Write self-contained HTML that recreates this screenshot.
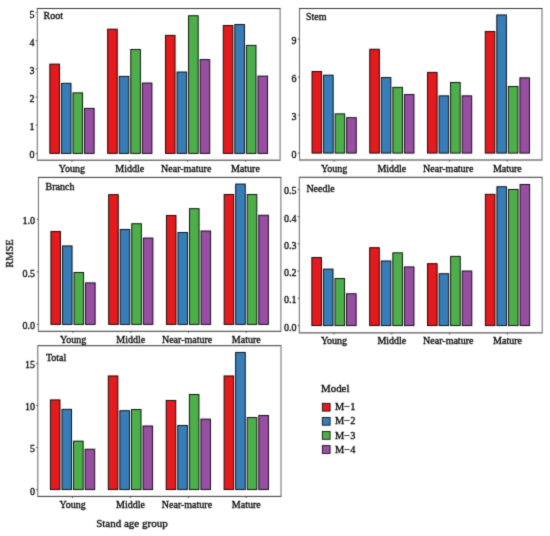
<!DOCTYPE html>
<html><head><meta charset="utf-8"><title>RMSE by stand age group</title>
<style>
html,body{margin:0;padding:0;background:#fff;}
body{width:550px;height:536px;overflow:hidden;}
svg{display:block;font-family:"Liberation Serif", "Times New Roman", serif;fill:#000;}
svg text{fill:#000;stroke:#000;stroke-width:0.3px;}
</style></head><body>
<svg width="550" height="536" viewBox="0 0 550 536">
<rect x="0" y="0" width="550" height="536" fill="#fff"/>
<defs><filter id="soft" x="0" y="0" width="550" height="536" filterUnits="userSpaceOnUse" color-interpolation-filters="sRGB"><feConvolveMatrix order="3" kernelMatrix="0.0367 0.1915 0.0367 0.1915 1.0000 0.1915 0.0367 0.1915 0.0367" divisor="1.9127" edgeMode="duplicate"/></filter></defs>
<g filter="url(#soft)">
<rect x="49.84" y="64.11" width="9.6" height="89.29" fill="#E41A1C" stroke="#000" stroke-width="0.9"/>
<rect x="61.41" y="83.28" width="9.6" height="70.12" fill="#377EB8" stroke="#000" stroke-width="0.9"/>
<rect x="72.97" y="92.87" width="9.6" height="60.53" fill="#4DAF4A" stroke="#000" stroke-width="0.9"/>
<rect x="84.53" y="108.38" width="9.6" height="45.02" fill="#984EA3" stroke="#000" stroke-width="0.9"/>
<rect x="107.65" y="29.14" width="9.6" height="124.26" fill="#E41A1C" stroke="#000" stroke-width="0.9"/>
<rect x="119.22" y="76.37" width="9.6" height="77.03" fill="#377EB8" stroke="#000" stroke-width="0.9"/>
<rect x="130.78" y="49.44" width="9.6" height="103.96" fill="#4DAF4A" stroke="#000" stroke-width="0.9"/>
<rect x="142.34" y="83" width="9.6" height="70.4" fill="#984EA3" stroke="#000" stroke-width="0.9"/>
<rect x="165.46" y="35.34" width="9.6" height="118.06" fill="#E41A1C" stroke="#000" stroke-width="0.9"/>
<rect x="177.03" y="72" width="9.6" height="81.4" fill="#377EB8" stroke="#000" stroke-width="0.9"/>
<rect x="188.59" y="15.71" width="9.6" height="137.69" fill="#4DAF4A" stroke="#000" stroke-width="0.9"/>
<rect x="200.15" y="59.59" width="9.6" height="93.81" fill="#984EA3" stroke="#000" stroke-width="0.9"/>
<rect x="223.27" y="25.47" width="9.6" height="127.93" fill="#E41A1C" stroke="#000" stroke-width="0.9"/>
<rect x="234.84" y="24.48" width="9.6" height="128.92" fill="#377EB8" stroke="#000" stroke-width="0.9"/>
<rect x="246.4" y="45.35" width="9.6" height="108.05" fill="#4DAF4A" stroke="#000" stroke-width="0.9"/>
<rect x="257.96" y="76.09" width="9.6" height="77.31" fill="#984EA3" stroke="#000" stroke-width="0.9"/>
<line x1="36.8" y1="8.5" x2="280.6" y2="8.5" stroke="#333" stroke-width="1"/>
<line x1="36.8" y1="160.2" x2="280.6" y2="160.2" stroke="#333" stroke-width="1"/>
<line x1="37.3" y1="9" x2="37.3" y2="159.7" stroke="#666" stroke-width="1"/>
<line x1="280.1" y1="9" x2="280.1" y2="159.7" stroke="#666" stroke-width="1"/>
<line x1="35.7" y1="153.4" x2="37.3" y2="153.4" stroke="#333" stroke-width="0.8"/>
<text x="34.4" y="158.3" text-anchor="end" font-size="10.0">0</text>
<line x1="35.7" y1="125.26" x2="37.3" y2="125.26" stroke="#333" stroke-width="0.8"/>
<text x="34.4" y="130.16" text-anchor="end" font-size="10.0">1</text>
<line x1="35.7" y1="97.12" x2="37.3" y2="97.12" stroke="#333" stroke-width="0.8"/>
<text x="34.4" y="102.02" text-anchor="end" font-size="10.0">2</text>
<line x1="35.7" y1="68.98" x2="37.3" y2="68.98" stroke="#333" stroke-width="0.8"/>
<text x="34.4" y="73.88" text-anchor="end" font-size="10.0">3</text>
<line x1="35.7" y1="40.84" x2="37.3" y2="40.84" stroke="#333" stroke-width="0.8"/>
<text x="34.4" y="45.74" text-anchor="end" font-size="10.0">4</text>
<line x1="35.7" y1="12.7" x2="37.3" y2="12.7" stroke="#333" stroke-width="0.8"/>
<text x="34.4" y="17.6" text-anchor="end" font-size="10.0">5</text>
<line x1="71.99" y1="160.2" x2="71.99" y2="161.8" stroke="#333" stroke-width="0.8"/>
<text x="71.99" y="171.7" text-anchor="middle" font-size="10.0">Young</text>
<line x1="129.8" y1="160.2" x2="129.8" y2="161.8" stroke="#333" stroke-width="0.8"/>
<text x="129.8" y="171.7" text-anchor="middle" font-size="10.0">Middle</text>
<line x1="187.6" y1="160.2" x2="187.6" y2="161.8" stroke="#333" stroke-width="0.8"/>
<text x="186.2" y="171.7" text-anchor="middle" font-size="10.0">Near-mature</text>
<line x1="245.41" y1="160.2" x2="245.41" y2="161.8" stroke="#333" stroke-width="0.8"/>
<text x="245.41" y="171.7" text-anchor="middle" font-size="10.0">Mature</text>
<text x="43.6" y="19.1" font-size="10.0">Root</text>
<rect x="312.03" y="71.46" width="9.58" height="81.64" fill="#E41A1C" stroke="#000" stroke-width="0.9"/>
<rect x="323.58" y="75.14" width="9.58" height="77.96" fill="#377EB8" stroke="#000" stroke-width="0.9"/>
<rect x="335.12" y="113.88" width="9.58" height="39.22" fill="#4DAF4A" stroke="#000" stroke-width="0.9"/>
<rect x="346.67" y="117.69" width="9.58" height="35.41" fill="#984EA3" stroke="#000" stroke-width="0.9"/>
<rect x="369.77" y="49.23" width="9.58" height="103.87" fill="#E41A1C" stroke="#000" stroke-width="0.9"/>
<rect x="381.31" y="77.55" width="9.58" height="75.55" fill="#377EB8" stroke="#000" stroke-width="0.9"/>
<rect x="392.86" y="87.33" width="9.58" height="65.77" fill="#4DAF4A" stroke="#000" stroke-width="0.9"/>
<rect x="404.41" y="94.57" width="9.58" height="58.53" fill="#984EA3" stroke="#000" stroke-width="0.9"/>
<rect x="427.51" y="72.35" width="9.58" height="80.75" fill="#E41A1C" stroke="#000" stroke-width="0.9"/>
<rect x="439.05" y="95.84" width="9.58" height="57.26" fill="#377EB8" stroke="#000" stroke-width="0.9"/>
<rect x="450.6" y="82.51" width="9.58" height="70.59" fill="#4DAF4A" stroke="#000" stroke-width="0.9"/>
<rect x="462.15" y="95.84" width="9.58" height="57.26" fill="#984EA3" stroke="#000" stroke-width="0.9"/>
<rect x="485.24" y="31.45" width="9.58" height="121.65" fill="#E41A1C" stroke="#000" stroke-width="0.9"/>
<rect x="496.79" y="14.94" width="9.58" height="138.16" fill="#377EB8" stroke="#000" stroke-width="0.9"/>
<rect x="508.34" y="86.44" width="9.58" height="66.66" fill="#4DAF4A" stroke="#000" stroke-width="0.9"/>
<rect x="519.89" y="77.81" width="9.58" height="75.29" fill="#984EA3" stroke="#000" stroke-width="0.9"/>
<line x1="299" y1="8.5" x2="542.5" y2="8.5" stroke="#333" stroke-width="1"/>
<line x1="299" y1="160" x2="542.5" y2="160" stroke="#333" stroke-width="1"/>
<line x1="299.5" y1="9" x2="299.5" y2="159.5" stroke="#666" stroke-width="1"/>
<line x1="542" y1="9" x2="542" y2="159.5" stroke="#666" stroke-width="1"/>
<line x1="297.9" y1="153.1" x2="299.5" y2="153.1" stroke="#333" stroke-width="0.8"/>
<text x="296.6" y="158" text-anchor="end" font-size="10.0">0</text>
<line x1="297.9" y1="115.09" x2="299.5" y2="115.09" stroke="#333" stroke-width="0.8"/>
<text x="296.6" y="119.99" text-anchor="end" font-size="10.0">3</text>
<line x1="297.9" y1="77.08" x2="299.5" y2="77.08" stroke="#333" stroke-width="0.8"/>
<text x="296.6" y="81.98" text-anchor="end" font-size="10.0">6</text>
<line x1="297.9" y1="39.07" x2="299.5" y2="39.07" stroke="#333" stroke-width="0.8"/>
<text x="296.6" y="43.97" text-anchor="end" font-size="10.0">9</text>
<line x1="334.14" y1="160" x2="334.14" y2="161.6" stroke="#333" stroke-width="0.8"/>
<text x="334.14" y="171.5" text-anchor="middle" font-size="10.0">Young</text>
<line x1="391.88" y1="160" x2="391.88" y2="161.6" stroke="#333" stroke-width="0.8"/>
<text x="391.88" y="171.5" text-anchor="middle" font-size="10.0">Middle</text>
<line x1="449.62" y1="160" x2="449.62" y2="161.6" stroke="#333" stroke-width="0.8"/>
<text x="448.22" y="171.5" text-anchor="middle" font-size="10.0">Near-mature</text>
<line x1="507.36" y1="160" x2="507.36" y2="161.6" stroke="#333" stroke-width="0.8"/>
<text x="507.36" y="171.5" text-anchor="middle" font-size="10.0">Mature</text>
<text x="305.9" y="19.5" font-size="10.0">Stem</text>
<rect x="50.93" y="231.4" width="9.58" height="93" fill="#E41A1C" stroke="#000" stroke-width="0.9"/>
<rect x="62.48" y="245.93" width="9.58" height="78.47" fill="#377EB8" stroke="#000" stroke-width="0.9"/>
<rect x="74.02" y="272.5" width="9.58" height="51.9" fill="#4DAF4A" stroke="#000" stroke-width="0.9"/>
<rect x="85.57" y="282.88" width="9.58" height="41.52" fill="#984EA3" stroke="#000" stroke-width="0.9"/>
<rect x="108.67" y="194.65" width="9.58" height="129.75" fill="#E41A1C" stroke="#000" stroke-width="0.9"/>
<rect x="120.21" y="229.42" width="9.58" height="94.98" fill="#377EB8" stroke="#000" stroke-width="0.9"/>
<rect x="131.76" y="223.71" width="9.58" height="100.69" fill="#4DAF4A" stroke="#000" stroke-width="0.9"/>
<rect x="143.31" y="238.04" width="9.58" height="86.36" fill="#984EA3" stroke="#000" stroke-width="0.9"/>
<rect x="166.41" y="215.41" width="9.58" height="108.99" fill="#E41A1C" stroke="#000" stroke-width="0.9"/>
<rect x="177.95" y="232.54" width="9.58" height="91.86" fill="#377EB8" stroke="#000" stroke-width="0.9"/>
<rect x="189.5" y="208.66" width="9.58" height="115.74" fill="#4DAF4A" stroke="#000" stroke-width="0.9"/>
<rect x="201.05" y="230.98" width="9.58" height="93.42" fill="#984EA3" stroke="#000" stroke-width="0.9"/>
<rect x="224.14" y="194.44" width="9.58" height="129.96" fill="#E41A1C" stroke="#000" stroke-width="0.9"/>
<rect x="235.69" y="184.06" width="9.58" height="140.34" fill="#377EB8" stroke="#000" stroke-width="0.9"/>
<rect x="247.24" y="194.44" width="9.58" height="129.96" fill="#4DAF4A" stroke="#000" stroke-width="0.9"/>
<rect x="258.79" y="215.2" width="9.58" height="109.2" fill="#984EA3" stroke="#000" stroke-width="0.9"/>
<line x1="37.9" y1="177.4" x2="281.4" y2="177.4" stroke="#333" stroke-width="1"/>
<line x1="37.9" y1="331.3" x2="281.4" y2="331.3" stroke="#333" stroke-width="1"/>
<line x1="38.4" y1="177.9" x2="38.4" y2="330.8" stroke="#666" stroke-width="1"/>
<line x1="280.9" y1="177.9" x2="280.9" y2="330.8" stroke="#666" stroke-width="1"/>
<line x1="36.8" y1="324.4" x2="38.4" y2="324.4" stroke="#333" stroke-width="0.8"/>
<text x="35" y="329.3" text-anchor="end" font-size="10.0">0.0</text>
<line x1="36.8" y1="271.9" x2="38.4" y2="271.9" stroke="#333" stroke-width="0.8"/>
<text x="35" y="276.8" text-anchor="end" font-size="10.0">0.5</text>
<line x1="36.8" y1="219.4" x2="38.4" y2="219.4" stroke="#333" stroke-width="0.8"/>
<text x="35" y="224.3" text-anchor="end" font-size="10.0">1.0</text>
<line x1="73.04" y1="331.3" x2="73.04" y2="332.9" stroke="#333" stroke-width="0.8"/>
<text x="73.04" y="342.8" text-anchor="middle" font-size="10.0">Young</text>
<line x1="130.78" y1="331.3" x2="130.78" y2="332.9" stroke="#333" stroke-width="0.8"/>
<text x="130.78" y="342.8" text-anchor="middle" font-size="10.0">Middle</text>
<line x1="188.52" y1="331.3" x2="188.52" y2="332.9" stroke="#333" stroke-width="0.8"/>
<text x="187.12" y="342.8" text-anchor="middle" font-size="10.0">Near-mature</text>
<line x1="246.26" y1="331.3" x2="246.26" y2="332.9" stroke="#333" stroke-width="0.8"/>
<text x="246.26" y="342.8" text-anchor="middle" font-size="10.0">Mature</text>
<text x="45.5" y="189.5" font-size="10.0">Branch</text>
<rect x="311.85" y="257.44" width="9.6" height="68.16" fill="#E41A1C" stroke="#000" stroke-width="0.9"/>
<rect x="323.42" y="269.09" width="9.6" height="56.51" fill="#377EB8" stroke="#000" stroke-width="0.9"/>
<rect x="334.98" y="278.57" width="9.6" height="47.03" fill="#4DAF4A" stroke="#000" stroke-width="0.9"/>
<rect x="346.55" y="293.75" width="9.6" height="31.85" fill="#984EA3" stroke="#000" stroke-width="0.9"/>
<rect x="369.68" y="247.68" width="9.6" height="77.92" fill="#E41A1C" stroke="#000" stroke-width="0.9"/>
<rect x="381.25" y="260.96" width="9.6" height="64.64" fill="#377EB8" stroke="#000" stroke-width="0.9"/>
<rect x="392.82" y="252.83" width="9.6" height="72.77" fill="#4DAF4A" stroke="#000" stroke-width="0.9"/>
<rect x="404.38" y="266.92" width="9.6" height="58.68" fill="#984EA3" stroke="#000" stroke-width="0.9"/>
<rect x="427.52" y="263.67" width="9.6" height="61.93" fill="#E41A1C" stroke="#000" stroke-width="0.9"/>
<rect x="439.08" y="273.7" width="9.6" height="51.9" fill="#377EB8" stroke="#000" stroke-width="0.9"/>
<rect x="450.65" y="256.35" width="9.6" height="69.25" fill="#4DAF4A" stroke="#000" stroke-width="0.9"/>
<rect x="462.22" y="270.99" width="9.6" height="54.61" fill="#984EA3" stroke="#000" stroke-width="0.9"/>
<rect x="485.35" y="194.29" width="9.6" height="131.31" fill="#E41A1C" stroke="#000" stroke-width="0.9"/>
<rect x="496.92" y="186.71" width="9.6" height="138.89" fill="#377EB8" stroke="#000" stroke-width="0.9"/>
<rect x="508.48" y="189.42" width="9.6" height="136.18" fill="#4DAF4A" stroke="#000" stroke-width="0.9"/>
<rect x="520.05" y="184.54" width="9.6" height="141.06" fill="#984EA3" stroke="#000" stroke-width="0.9"/>
<line x1="298.8" y1="177.3" x2="542.7" y2="177.3" stroke="#333" stroke-width="1"/>
<line x1="298.8" y1="332.9" x2="542.7" y2="332.9" stroke="#333" stroke-width="1"/>
<line x1="299.3" y1="177.8" x2="299.3" y2="332.4" stroke="#666" stroke-width="1"/>
<line x1="542.2" y1="177.8" x2="542.2" y2="332.4" stroke="#666" stroke-width="1"/>
<line x1="297.7" y1="325.6" x2="299.3" y2="325.6" stroke="#333" stroke-width="0.8"/>
<text x="296.4" y="330.5" text-anchor="end" font-size="10.0">0.0</text>
<line x1="297.7" y1="298.35" x2="299.3" y2="298.35" stroke="#333" stroke-width="0.8"/>
<text x="296.4" y="303.25" text-anchor="end" font-size="10.0">0.1</text>
<line x1="297.7" y1="271.1" x2="299.3" y2="271.1" stroke="#333" stroke-width="0.8"/>
<text x="296.4" y="276" text-anchor="end" font-size="10.0">0.2</text>
<line x1="297.7" y1="243.85" x2="299.3" y2="243.85" stroke="#333" stroke-width="0.8"/>
<text x="296.4" y="248.75" text-anchor="end" font-size="10.0">0.3</text>
<line x1="297.7" y1="216.6" x2="299.3" y2="216.6" stroke="#333" stroke-width="0.8"/>
<text x="296.4" y="221.5" text-anchor="end" font-size="10.0">0.4</text>
<line x1="297.7" y1="189.35" x2="299.3" y2="189.35" stroke="#333" stroke-width="0.8"/>
<text x="296.4" y="194.25" text-anchor="end" font-size="10.0">0.5</text>
<line x1="334" y1="332.9" x2="334" y2="334.5" stroke="#333" stroke-width="0.8"/>
<text x="334" y="344.4" text-anchor="middle" font-size="10.0">Young</text>
<line x1="391.83" y1="332.9" x2="391.83" y2="334.5" stroke="#333" stroke-width="0.8"/>
<text x="391.83" y="344.4" text-anchor="middle" font-size="10.0">Middle</text>
<line x1="449.67" y1="332.9" x2="449.67" y2="334.5" stroke="#333" stroke-width="0.8"/>
<text x="448.27" y="344.4" text-anchor="middle" font-size="10.0">Near-mature</text>
<line x1="507.5" y1="332.9" x2="507.5" y2="334.5" stroke="#333" stroke-width="0.8"/>
<text x="507.5" y="344.4" text-anchor="middle" font-size="10.0">Mature</text>
<text x="306.4" y="191.5" font-size="10.0">Needle</text>
<rect x="50.37" y="399.91" width="9.61" height="89.69" fill="#E41A1C" stroke="#000" stroke-width="0.9"/>
<rect x="61.95" y="409.33" width="9.61" height="80.27" fill="#377EB8" stroke="#000" stroke-width="0.9"/>
<rect x="73.53" y="441.12" width="9.61" height="48.48" fill="#4DAF4A" stroke="#000" stroke-width="0.9"/>
<rect x="85.11" y="449.2" width="9.61" height="40.4" fill="#984EA3" stroke="#000" stroke-width="0.9"/>
<rect x="108.27" y="375.94" width="9.61" height="113.66" fill="#E41A1C" stroke="#000" stroke-width="0.9"/>
<rect x="119.85" y="410.68" width="9.61" height="78.92" fill="#377EB8" stroke="#000" stroke-width="0.9"/>
<rect x="131.43" y="409.58" width="9.61" height="80.02" fill="#4DAF4A" stroke="#000" stroke-width="0.9"/>
<rect x="143.01" y="425.98" width="9.61" height="63.62" fill="#984EA3" stroke="#000" stroke-width="0.9"/>
<rect x="166.17" y="400.42" width="9.61" height="89.18" fill="#E41A1C" stroke="#000" stroke-width="0.9"/>
<rect x="177.76" y="425.4" width="9.61" height="64.2" fill="#377EB8" stroke="#000" stroke-width="0.9"/>
<rect x="189.34" y="394.53" width="9.61" height="95.07" fill="#4DAF4A" stroke="#000" stroke-width="0.9"/>
<rect x="200.92" y="419.09" width="9.61" height="70.51" fill="#984EA3" stroke="#000" stroke-width="0.9"/>
<rect x="224.08" y="375.94" width="9.61" height="113.66" fill="#E41A1C" stroke="#000" stroke-width="0.9"/>
<rect x="235.66" y="352.4" width="9.61" height="137.2" fill="#377EB8" stroke="#000" stroke-width="0.9"/>
<rect x="247.24" y="417.57" width="9.61" height="72.03" fill="#4DAF4A" stroke="#000" stroke-width="0.9"/>
<rect x="258.82" y="415.47" width="9.61" height="74.13" fill="#984EA3" stroke="#000" stroke-width="0.9"/>
<line x1="37.3" y1="345.7" x2="281.5" y2="345.7" stroke="#333" stroke-width="1"/>
<line x1="37.3" y1="496.4" x2="281.5" y2="496.4" stroke="#333" stroke-width="1"/>
<line x1="37.8" y1="346.2" x2="37.8" y2="495.9" stroke="#666" stroke-width="1"/>
<line x1="281" y1="346.2" x2="281" y2="495.9" stroke="#666" stroke-width="1"/>
<line x1="36.2" y1="489.6" x2="37.8" y2="489.6" stroke="#333" stroke-width="0.8"/>
<text x="34.9" y="494.5" text-anchor="end" font-size="10.0">0</text>
<line x1="36.2" y1="447.55" x2="37.8" y2="447.55" stroke="#333" stroke-width="0.8"/>
<text x="34.9" y="452.45" text-anchor="end" font-size="10.0">5</text>
<line x1="36.2" y1="405.5" x2="37.8" y2="405.5" stroke="#333" stroke-width="0.8"/>
<text x="34.9" y="410.4" text-anchor="end" font-size="10.0">10</text>
<line x1="36.2" y1="363.45" x2="37.8" y2="363.45" stroke="#333" stroke-width="0.8"/>
<text x="34.9" y="368.35" text-anchor="end" font-size="10.0">15</text>
<line x1="72.54" y1="496.4" x2="72.54" y2="498" stroke="#333" stroke-width="0.8"/>
<text x="72.54" y="507.9" text-anchor="middle" font-size="10.0">Young</text>
<line x1="130.45" y1="496.4" x2="130.45" y2="498" stroke="#333" stroke-width="0.8"/>
<text x="130.45" y="507.9" text-anchor="middle" font-size="10.0">Middle</text>
<line x1="188.35" y1="496.4" x2="188.35" y2="498" stroke="#333" stroke-width="0.8"/>
<text x="186.95" y="507.9" text-anchor="middle" font-size="10.0">Near-mature</text>
<line x1="246.26" y1="496.4" x2="246.26" y2="498" stroke="#333" stroke-width="0.8"/>
<text x="246.26" y="507.9" text-anchor="middle" font-size="10.0">Mature</text>
<text x="45.9" y="360.5" font-size="10.0">Total</text>
<text x="0" y="0" transform="translate(13.2 253.5) rotate(-90)" text-anchor="middle" font-size="10.4">RMSE</text>
<text x="131.9" y="527.0" text-anchor="middle" font-size="11">Stand age group</text>
<text x="321.0" y="392.4" font-size="10.9">Model</text>
<rect x="322.3" y="403.3" width="7.8" height="7.8" fill="#E41A1C" stroke="#000" stroke-width="0.8"/>
<text x="335.1" y="410.3" font-size="10.4">M−1</text>
<rect x="322.3" y="417.4" width="7.8" height="7.8" fill="#377EB8" stroke="#000" stroke-width="0.8"/>
<text x="335.1" y="424.4" font-size="10.4">M−2</text>
<rect x="322.3" y="431.5" width="7.8" height="7.8" fill="#4DAF4A" stroke="#000" stroke-width="0.8"/>
<text x="335.1" y="438.5" font-size="10.4">M−3</text>
<rect x="322.3" y="445.6" width="7.8" height="7.8" fill="#984EA3" stroke="#000" stroke-width="0.8"/>
<text x="335.1" y="452.6" font-size="10.4">M−4</text>
</g>
</svg>
</body></html>
